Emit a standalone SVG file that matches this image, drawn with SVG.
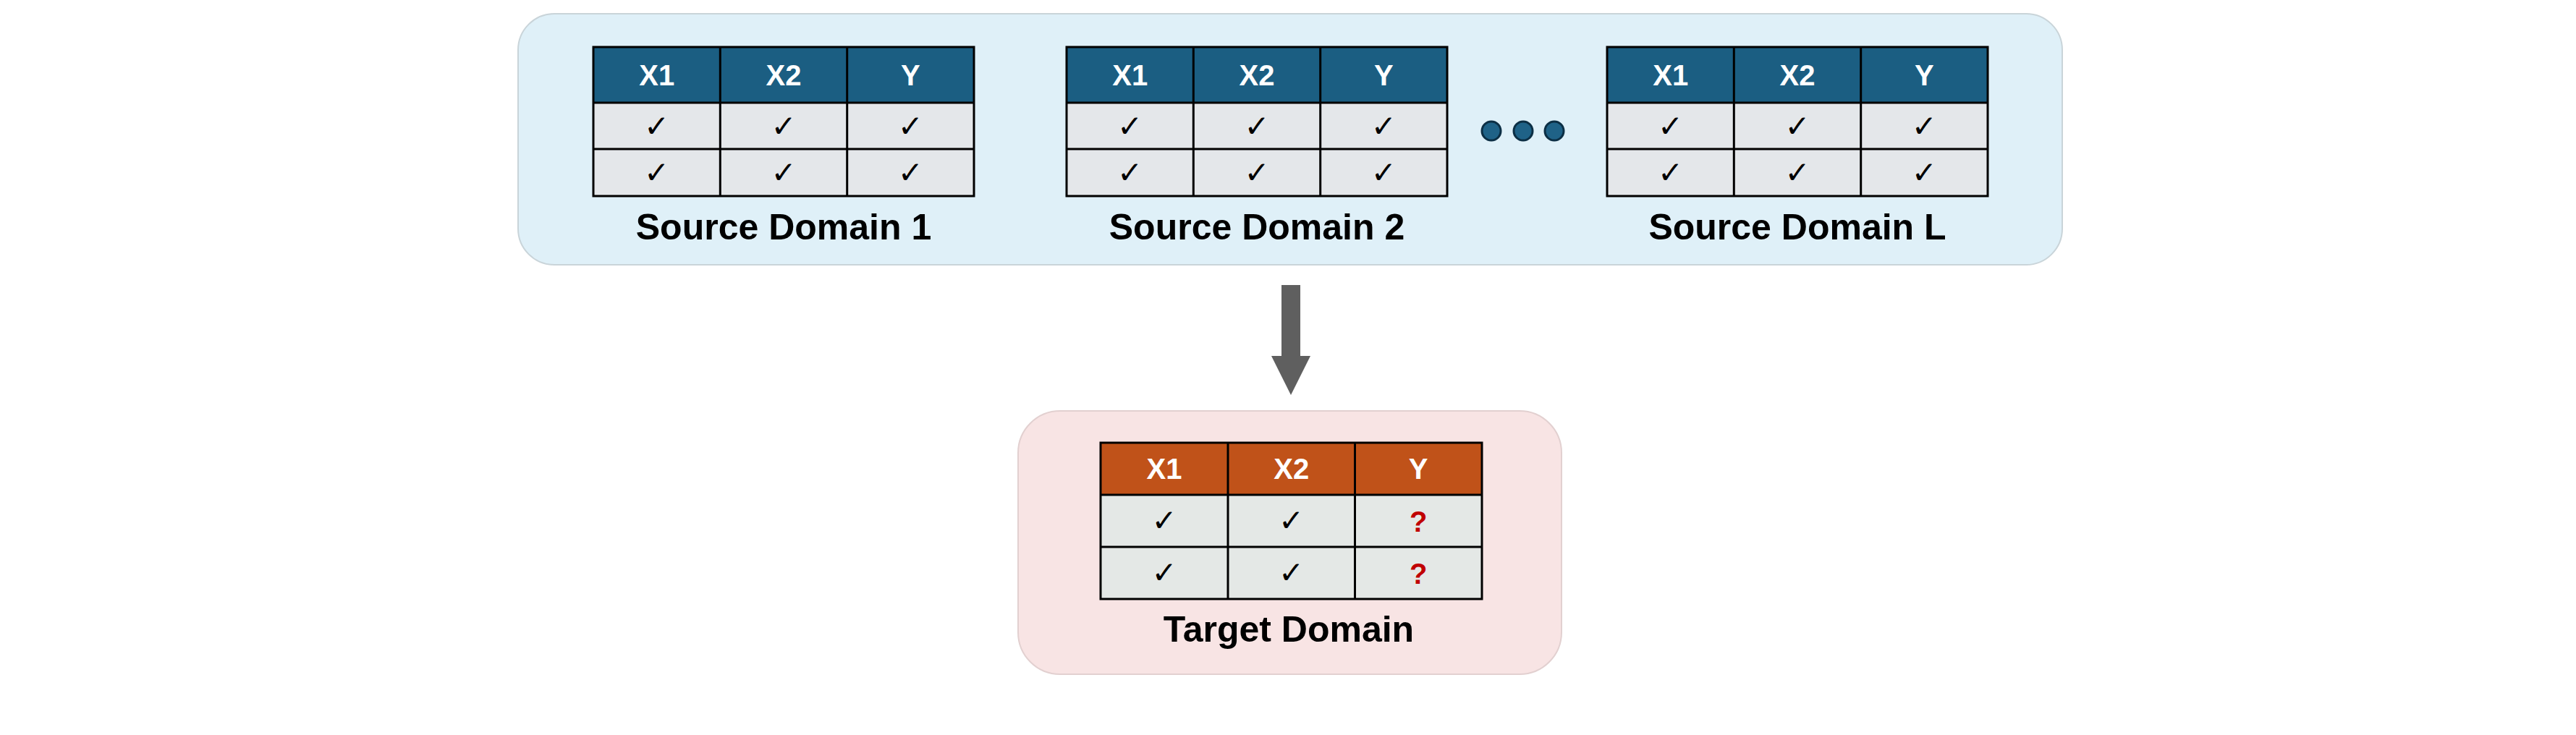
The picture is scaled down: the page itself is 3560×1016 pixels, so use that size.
<svg xmlns="http://www.w3.org/2000/svg" width="3560" height="1016" viewBox="0 0 3560 1016">
<defs>
<style>
.bg{fill:#ffffff}
.srcpanel{fill:#dff0f8;stroke:#c9d4d9;stroke-width:2}
.tgtpanel{fill:#f8e4e4;stroke:#e2d0d0;stroke-width:2}
.hs{fill:#1b5e82}
.ht{fill:#c05219}
.cell{fill:#e4e7ea}
.tcell{fill:#e4e8e6}
.grid{fill:none;stroke:#000000;stroke-width:3}
.htxt{font-family:"Liberation Sans",Arial,sans-serif;font-weight:bold;font-size:40px;fill:#ffffff;text-anchor:middle}
.chk{font-family:"DejaVu Sans",sans-serif;font-size:42px;fill:#000000;text-anchor:middle}
.q{font-family:"Liberation Sans",Arial,sans-serif;font-weight:bold;font-size:40px;fill:#c00000;text-anchor:middle}
.lbl{font-family:"Liberation Sans",Arial,sans-serif;font-weight:bold;font-size:50px;fill:#000000;text-anchor:middle}
.dot{fill:#1f6287;stroke:#0c2f45;stroke-width:3}
.arrow{fill:#5f5f5f}
</style>
<g id="srcTable">
<rect class="hs" x="0" y="0" width="526" height="77"/>
<rect class="cell" x="0" y="77" width="526" height="129"/>
<path class="grid" d="M0 0H526V206H0Z M175.3 0V206 M350.7 0V206 M0 77H526 M0 141H526"/>
<text class="htxt" x="87.7" y="53">X1</text>
<text class="htxt" x="263" y="53">X2</text>
<text class="htxt" x="438.3" y="53">Y</text>
<text class="chk" x="87.7" y="124">✓</text>
<text class="chk" x="263" y="124">✓</text>
<text class="chk" x="438.3" y="124">✓</text>
<text class="chk" x="87.7" y="188">✓</text>
<text class="chk" x="263" y="188">✓</text>
<text class="chk" x="438.3" y="188">✓</text>
</g>
</defs>
<rect class="bg" x="0" y="0" width="3560" height="1016"/>
<g id="sourcePanel">
<rect class="srcpanel" x="716" y="19" width="2134" height="347" rx="50" ry="50"/>
</g>
<g id="source1">
<use href="#srcTable" x="820" y="65"/>
<text class="lbl" x="1083" y="331">Source Domain 1</text>
</g>
<g id="source2">
<use href="#srcTable" x="1474" y="65"/>
<text class="lbl" x="1737" y="331">Source Domain 2</text>
</g>
<g id="ellipsis">
<circle class="dot" cx="2061" cy="181" r="13"/>
<circle class="dot" cx="2105" cy="181" r="13"/>
<circle class="dot" cx="2148" cy="181" r="13"/>
</g>
<g id="sourceL">
<use href="#srcTable" x="2221" y="65"/>
<text class="lbl" x="2484" y="331">Source Domain L</text>
</g>
<g id="connectors">
<polygon class="arrow" points="1771,394 1797,394 1797,492 1811,492 1784,546 1757,492 1771,492"/>
</g>
<g id="target">
<rect class="tgtpanel" x="1407" y="568" width="751" height="364" rx="58" ry="58"/>
<rect class="ht" x="1521" y="612" width="527" height="72"/>
<rect class="tcell" x="1521" y="684" width="527" height="144"/>
<path class="grid" d="M1521 612H2048V828H1521Z M1697 612V828 M1872.5 612V828 M1521 684H2048 M1521 756H2048"/>
<text class="htxt" x="1609" y="662">X1</text>
<text class="htxt" x="1784.7" y="662">X2</text>
<text class="htxt" x="1960.2" y="662">Y</text>
<text class="chk" x="1609" y="734">✓</text>
<text class="chk" x="1784.7" y="734">✓</text>
<text class="q" x="1960.2" y="735">?</text>
<text class="chk" x="1609" y="806">✓</text>
<text class="chk" x="1784.7" y="806">✓</text>
<text class="q" x="1960.2" y="807">?</text>
<text class="lbl" x="1781" y="887">Target Domain</text>
</g>
</svg>
